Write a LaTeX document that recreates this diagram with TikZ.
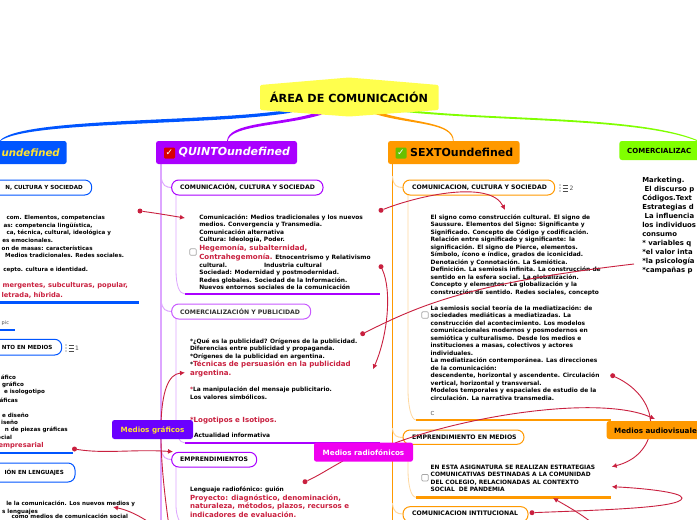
\documentclass[tikz,border=0pt]{standalone}
\usepackage{fontspec}
\usetikzlibrary{arrows.meta}
\setmainfont{DejaVu Sans}
\definecolor{cblue}{HTML}{0055FF}
\definecolor{cpurple}{HTML}{AA00FF}
\definecolor{lpurple}{HTML}{DDA6FF}
\definecolor{corange}{HTML}{FF9900}
\definecolor{lorange}{HTML}{FFD9A0}
\definecolor{clime}{HTML}{80FF00}
\definecolor{cyel}{HTML}{FFFF4D}
\definecolor{cred}{HTML}{C9203F}
\definecolor{cindigo}{HTML}{6A00FF}
\definecolor{cmag}{HTML}{F000F0}
\definecolor{cgold}{HTML}{FFE333}
\definecolor{cgreen}{HTML}{66C000}
\tikzset{
 x=1pt,y=-1pt,
 body/.style={inner sep=0pt,outer sep=0pt,anchor=west,align=left,font=\fontsize{5.9}{7.5}\bfseries\selectfont},
 one/.style={inner sep=0pt,outer sep=0pt,anchor=west,font=\fontsize{5.9}{7.5}\bfseries\selectfont},
 edgeline/.style={inner sep=0pt,outer sep=0pt,anchor=east,font=\fontsize{5.6}{7.5}\bfseries\selectfont},
 edgered/.style={edgeline,text=cred,font=\fontsize{6.7}{8}\bfseries\selectfont},
 bigbody/.style={body,font=\fontsize{6.9}{9}\bfseries\selectfont},
 pilltext/.style={inner sep=0pt,anchor=west,font=\fontsize{6.15}{7}\bfseries\selectfont},
 edgepill/.style={inner sep=0pt,anchor=east,font=\fontsize{5.6}{7}\bfseries\selectfont},
 pill/.style={rounded corners=7pt,fill=white,line width=1pt},
 dot/.style={circle,fill=cred,inner sep=0pt,minimum size=5pt},
 link/.style={draw=cred,line width=.9pt},
 arr/.style={link,-{Latex[length=5pt,width=5pt]}},
 box/.style={draw=gray!70,fill=white,line width=.7pt,rounded corners=1pt,minimum size=6.5pt,inner sep=0pt},
 under/.style={line width=2.4pt},
 flt/.style={inner sep=0pt,font=\fontsize{7.2}{8}\bfseries\selectfont},
}
\newcommand{\rd}[1]{\textcolor{cred}{\fontsize{7.05}{8}\selectfont #1}}
\begin{document}
\begin{tikzpicture}
\useasboundingbox (0,0) rectangle (697,520);
\fill[white] (0,0) rectangle (697,520);
% tapered branches
\fill[cblue] (280,111) .. controls (200,122) and (20,118) .. (0,140.5) -- (0,141.2) .. controls (25,121) and (210,126) .. (292,112.5) -- cycle;
\fill[cpurple] (315,113) .. controls (280,124) and (228,122) .. (227,141) -- (227.7,141) .. controls (230,125) and (285,126) .. (322,114.5) -- cycle;
\fill[corange] (375,114) .. controls (410,125) and (452,122) .. (453,141) -- (453.7,141) .. controls (454,122) and (415,123) .. (382,113) -- cycle;
\fill[clime] (400,111.5) .. controls (500,122) and (640,118) .. (697,141) -- (697,140) .. controls (640,116) and (500,120) .. (412,110.5) -- cycle;
% centre
\fill[cyel,rounded corners=1.5pt] (260,85) -- (349,77.5) -- (438.7,85) -- (438.7,110) -- (349,116.5) -- (260,110) -- cycle;
\node[inner sep=0pt] (root) at (349,97) {\fontsize{11.2}{13}\bfseries\selectfont ÁREA DE COMUNICACIÓN};
% trunks
\draw[lpurple,line width=1.8pt] (161,164) -- (161,525);
\draw[corange,line width=1pt] (392.5,164) -- (392.5,525);
% purple sub-branches
\draw[lpurple,line width=1pt] (161,176) .. controls (162,186) and (166,187.5) .. (172,187.5);
\draw[lpurple,line width=1pt] (161,300) .. controls (162,310) and (166,311.5) .. (172,311.5);
\draw[lpurple,line width=1pt] (161,448) .. controls (162,458) and (166,459.5) .. (172,459.5);
\draw[lpurple,line width=.8pt] (176,195) -- (176,270) .. controls (176,285) and (179,294) .. (185,294);
\draw[lpurple,line width=.8pt] (176,319) -- (176,420) .. controls (176,435) and (179,443) .. (185,443);
\draw[lpurple,line width=.8pt] (176,467) -- (176,505) .. controls (176,515) and (179,522) .. (183,526);
\draw[cpurple,under] (185,294) -- (380,294);
\draw[cpurple,under] (185,443) -- (380,443);
% orange sub-branches
\draw[lorange,line width=1pt] (392.5,176) .. controls (393,186) and (397,187.5) .. (403,187.5);
\draw[lorange,line width=1pt] (392.5,428) .. controls (393,436) and (397,437.5) .. (403,437.5);
\draw[lorange,line width=1pt] (392.5,503) .. controls (393,512) and (397,514) .. (403,514);
\draw[lorange,line width=.8pt] (408,195) -- (408,390) .. controls (408,405) and (411,420) .. (416,420);
\draw[lorange,line width=.8pt] (408,444) -- (408,470) .. controls (408,485) and (411,497.3) .. (416,497.3);
\draw[corange,under] (416,420) -- (611,420);
\draw[corange,under] (416,497.3) -- (611,497.3);
% blue underlines
\draw[cblue,under] (0,302.3) -- (138.7,302.3);
\draw[cblue,under] (0,330) -- (14.7,330);
\draw[cblue,under] (0,453) -- (73,453);
% headers
\fill[cblue,rounded corners=2.5pt] (-5,141) rectangle (66.7,164);
\node[inner sep=0pt,anchor=east,text=cgold] (hblue) at (60,152.5) {\fontsize{10.2}{12}\bfseries\itshape\selectfont undefined};
\fill[cpurple,rounded corners=2.5pt] (156,141) rectangle (297,164);
\fill[red!85!black,rounded corners=1.2pt] (164,147.5) rectangle (175,158.5);
\node[inner sep=0pt,text=white] (chk1) at (169.5,153) {\fontsize{9}{10}\selectfont ✓};
\node[inner sep=0pt,anchor=west,text=white] (hpurple) at (178.5,152.5) {\fontsize{11}{12}\bfseries\itshape\selectfont QUINTOundefined};
\fill[corange,rounded corners=2.5pt] (388,141) rectangle (519.6,164);
\fill[cgreen,rounded corners=1.2pt] (395.5,147.5) rectangle (406.5,158.5);
\node[inner sep=0pt,text=white] (chk2) at (401,153) {\fontsize{9}{10}\selectfont ✓};
\node[inner sep=0pt,anchor=west] (horange) at (410,152.5) {\fontsize{11}{12}\bfseries\selectfont SEXTOundefined};
\fill[clime,rounded corners=2.5pt] (619.4,141) rectangle (702,160);
\node[pilltext,font=\fontsize{7}{8}\bfseries\selectfont] (hcom) at (627,151.3) {COMERCIALIZAC};
% pills, blue column
\draw[cblue,pill] (-10,180) rectangle (91.7,195);
\node[edgepill] (p1) at (83,187.5) {N, CULTURA Y SOCIEDAD};
\draw[cblue,pill] (-10,339.3) rectangle (61.7,355);
\node[edgepill] (p2) at (52.7,347.7) {NTO EN MEDIOS};
\draw[cblue,pill] (-10,463) rectangle (75,482);
\node[edgepill] (p3) at (64,472.3) {IÓN EN LENGUAJES};
% pills, purple column
\draw[cpurple,pill] (171.7,180) rectangle (323,195);
\node[pilltext] (p4) at (180,187.5) {COMUNICACIÓN, CULTURA Y SOCIEDAD};
\draw[cpurple!65,pill] (171.7,304) rectangle (310.7,319);
\node[pilltext,text=black!80] (p5) at (180,311.5) {COMERCIALIZACIÓN Y PUBLICIDAD};
\draw[cpurple,pill] (171.7,452.3) rectangle (256.7,467);
\node[pilltext] (p6) at (180,459.7) {EMPRENDIMIENTOS};
% pills, orange column
\draw[corange,pill] (403,180) rectangle (554.7,195);
\node[pilltext] (p7) at (412,187.7) {COMUNICACION, CULTURA Y SOCIEDAD};
\draw[corange,pill] (403,430) rectangle (524,444.3);
\node[pilltext] (p8) at (412,437.7) {EMPRENDIMIENTO EN MEDIOS};
\draw[corange,pill] (403,506.7) rectangle (528,522);
\node[pilltext] (p9) at (412,513.7) {COMUNICACION INTITUCIONAL};
% list icons
\foreach \lx/\ly in {66/348,560/188}{
 \draw[black!70,line width=.6pt] (\lx+2.5,\ly-3) -- (\lx+8,\ly-3) (\lx+2.5,\ly) -- (\lx+8,\ly) (\lx+2.5,\ly+3) -- (\lx+8,\ly+3);
 \fill[black!70] (\lx,\ly-3) circle (.6) (\lx,\ly) circle (.6) (\lx,\ly+3) circle (.6);
}
\node[inner sep=0pt,text=black!70] (n1) at (77,348.5) {\fontsize{6}{7}\selectfont 1};
\node[inner sep=0pt,text=black!70] (n2) at (571.5,188.5) {\fontsize{6}{7}\selectfont 2};
% check boxes
\node[box] (b1) at (193,252) {};
\node[box] (b2) at (425,315) {};
\node[box] (b3) at (425,477.7) {};
% left column text
\node[edgeline] (t01) at (105,218) {com. Elementos, competencias};
\node[edgeline] (t02) at (92.6,225.7) {as: competencia lingüística,};
\node[edgeline] (t03) at (111,233) {ca, técnica, cultural, ideológica y};
\node[edgeline] (t04) at (53,240) {es emocionales.};
\node[edgeline] (t05) at (92.6,248) {on de masas: características};
\node[edgeline] (t06) at (124,255) {Medios tradicionales. Redes sociales.};
\node[edgeline] (t07) at (88,270) {cepto. cultura e identidad.};
\node[edgered] (t08) at (128,286) {mergentes, subculturas, popular,};
\node[edgered] (t09) at (63,295) {letrada, híbrida.};
\node[edgeline,font=\fontsize{5}{6}\selectfont,text=black!70] (t10) at (9,323) {pic};
\node[edgeline] (t11) at (16,377) {áfico};
\node[edgeline] (t12) at (24,384.7) {gráfico};
\node[edgeline] (t13) at (45,392.3) {e isologotipo};
\node[edgeline] (t14) at (18,400) {áficas};
\node[edgeline] (t15) at (28.7,415) {e diseño};
\node[edgeline] (t16) at (18,422) {iseño};
\node[edgeline] (t17) at (67.7,430) {n de piezas gráficas};
\node[edgeline] (t18) at (12,437) {ocial};
\node[edgered] (t19) at (43.7,446) {empresarial};
\node[edgeline] (t20) at (135,504) {le la comunicación. Los nuevos medios y};
\node[edgeline] (t21) at (38,511.5) {s lenguajes};
\node[edgeline] (t22) at (128,516.6) {como medios de comunicación social};
% quinto text
\node[body] (q1) at (199.3,229) {Comunicación: Medios tradicionales y los nuevos\\medios. Convergencia y Transmedia.\\Comunicación alternativa\\Cultura: Ideología, Poder.};
\node[one] (q2a) at (199.3,248.7) {\rd{Hegemonía, subalternidad,}};
\node[one] (q2b) at (199.3,257.7) {\rd{Contrahegemonía.} Etnocentrismo y Relativismo};
\node[one] (q3a) at (199.3,264.9) {cultural.};
\node[one] (q3b) at (264,264.9) {Industria cultural};
\node[body] (q4) at (199.3,280.2) {Sociedad: Modernidad y postmodernidad.\\Redes globales. Sociedad de la Información.\\Nuevos entornos sociales de la comunicación};
\node[body] (q5) at (190,349.2) {*¿Qué es la publicidad? Orígenes de la publicidad.\\Diferencias entre publicidad y propaganda.\\*Orígenes de la publicidad en argentina.};
\node[one] (q6) at (190,364.7) {*\rd{Técnicas de persuasión en la publicidad}};
\node[one] (q7) at (190,373.3) {\rd{argentina.}};
\node[one] (q8) at (190,389.3) {\textcolor{cred}{*}La manipulación del mensaje publicitario.};
\node[one] (q9) at (190,396.8) {Los valores simbólicos.};
\node[one] (q10) at (190,420.7) {\rd{*Logotipos e Isotipos.}};
\node[one] (q11) at (194,435.7) {Actualidad informativa};
\node[one] (q12) at (190,490) {Lenguaje radiofónico: guión};
\node[one] (q13) at (190,498) {\rd{Proyecto: diagnóstico, denominación,}};
\node[one] (q14) at (190,506.3) {\rd{naturaleza, métodos, plazos, recursos e}};
\node[one] (q15) at (190,514.3) {\rd{indicadores de evaluación.}};
% sexto text
\node[body] (s1) at (430.7,255.2) {El signo como construcción cultural. El signo de\\Saussure. Elementos del Signo: Significante y\\Significado. Concepto de Código y codificación.\\Relación entre significado y significante: la\\significación. El signo de Pierce, elementos.\\Símbolo, ícono e índice, grados de iconicidad.\\Denotación y Connotación. La Semiótica.\\Definición. La semiosis infinita. La construcción de\\sentido en la esfera social. La globalización.\\Concepto y elementos. La globalización y la\\construcción de sentido. Redes sociales, concepto};
\node[body] (s2) at (430.7,352.7) {La semiosis social teoría de la mediatización: de\\sociedades mediáticas a mediatizadas. La\\construcción del acontecimiento. Los modelos\\comunicacionales modernos y posmodernos en\\semiótica y culturalismo. Desde los medios e\\instituciones a masas, colectivos y actores\\individuales.\\La mediatización contemporánea. Las direcciones\\de la comunicación:\\descendente, horizontal y ascendente. Circulación\\vertical, horizontal y transversal.\\Modelos temporales y espaciales de estudio de la\\circulación. La narrativa transmedia.};
\node[one,font=\fontsize{5.5}{7}\selectfont,text=black!70] (s3) at (430.7,413) {C};
\node[body] (s4) at (430.7,478.2) {EN ESTA ASIGNATURA SE REALIZAN ESTRATEGIAS\\COMUNICATIVAS DESTINADAS A LA COMUNIDAD\\DEL COLEGIO, RELACIONADAS AL CONTEXTO\\SOCIAL\ \ DE PANDEMIA};
% comercial text
\node[bigbody] (c1) at (642.3,225.5) {Marketing.\\\ El discurso p\\Códigos.Text\\Estrategias d\\\ La influencia\\los individuos\\consumo\\* variables q\\*el valor inta\\*la psicología\\*campañas p};
% red connectors behind floating nodes
\node[dot] (d1) at (140,211) {};
\coordinate (a1) at (185,218);
\draw[arr] (d1) .. controls (155,213) and (170,215.5) .. (a1);
\node[dot] (d2) at (74.5,449) {};
\coordinate (a2) at (173,451.7);
\draw[arr] (d2) .. controls (105,454) and (135,449) .. (a2);
\node[dot] (d3) at (381,210.3) {};
\coordinate (a3) at (505,210);
\draw[arr] (d3) .. controls (420,195) and (490,180) .. (a3);
\node[dot] (d4) at (381,266.7) {};
\coordinate (a4) at (373,369.3);
\draw[arr] (d4) .. controls (392,290) and (388,335) .. (a4);
\node[dot] (d5) at (362.7,333.7) {};
\coordinate (e5) at (634,264);
\draw[link] (d5) .. controls (420,305) and (470,283) .. (e5);
\coordinate (s6) at (169,526);
\coordinate (a6) at (185,372.7);
\draw[arr] (s6) .. controls (158,450) and (155,375) .. (a6);
\coordinate (s7) at (150,523);
\coordinate (a7) at (113,507);
\draw[arr] (s7) .. controls (140,516) and (128,510) .. (a7);
\node[dot] (d8) at (305,481.7) {};
\coordinate (e8) at (343,461);
\draw[link] (d8) .. controls (318,476) and (330,468) .. (e8);
\node[dot] (d9) at (612.7,375.7) {};
\coordinate (a9) at (611.7,466.7);
\draw[arr] (d9) .. controls (665,400) and (660,455) .. (a9);
\coordinate (s10) at (395,443);
\coordinate (a10) at (655,419);
\draw[arr] (s10) .. controls (470,415) and (600,395) .. (a10);
\node[dot] (d11) at (532,512.7) {};
\coordinate (a11) at (611.7,486.7);
\draw[arr] (d11) .. controls (600,510) and (682,508) .. (682,498) .. controls (682,492) and (640,488) .. (a11);
\coordinate (s12) at (591,522);
\coordinate (a12) at (553,498);
\draw[arr] (s12) .. controls (578,512) and (565,505) .. (a12);
% floating nodes
\fill[cindigo,rounded corners=2.5pt] (112,420) rectangle (193,439);
\node[flt,text=cgold] (mg) at (152.5,430) {Medios gráficos};
\fill[cmag,rounded corners=2.5pt] (314,442.5) rectangle (413,461.7);
\node[flt,text=white] (mr) at (363.5,453) {Medios radiofónicos};
\fill[corange,rounded corners=2.5pt] (606.7,421) rectangle (702,439);
\node[flt,anchor=west] (ma) at (614,430.6) {Medios audiovisuale};
\end{tikzpicture}
\end{document}
